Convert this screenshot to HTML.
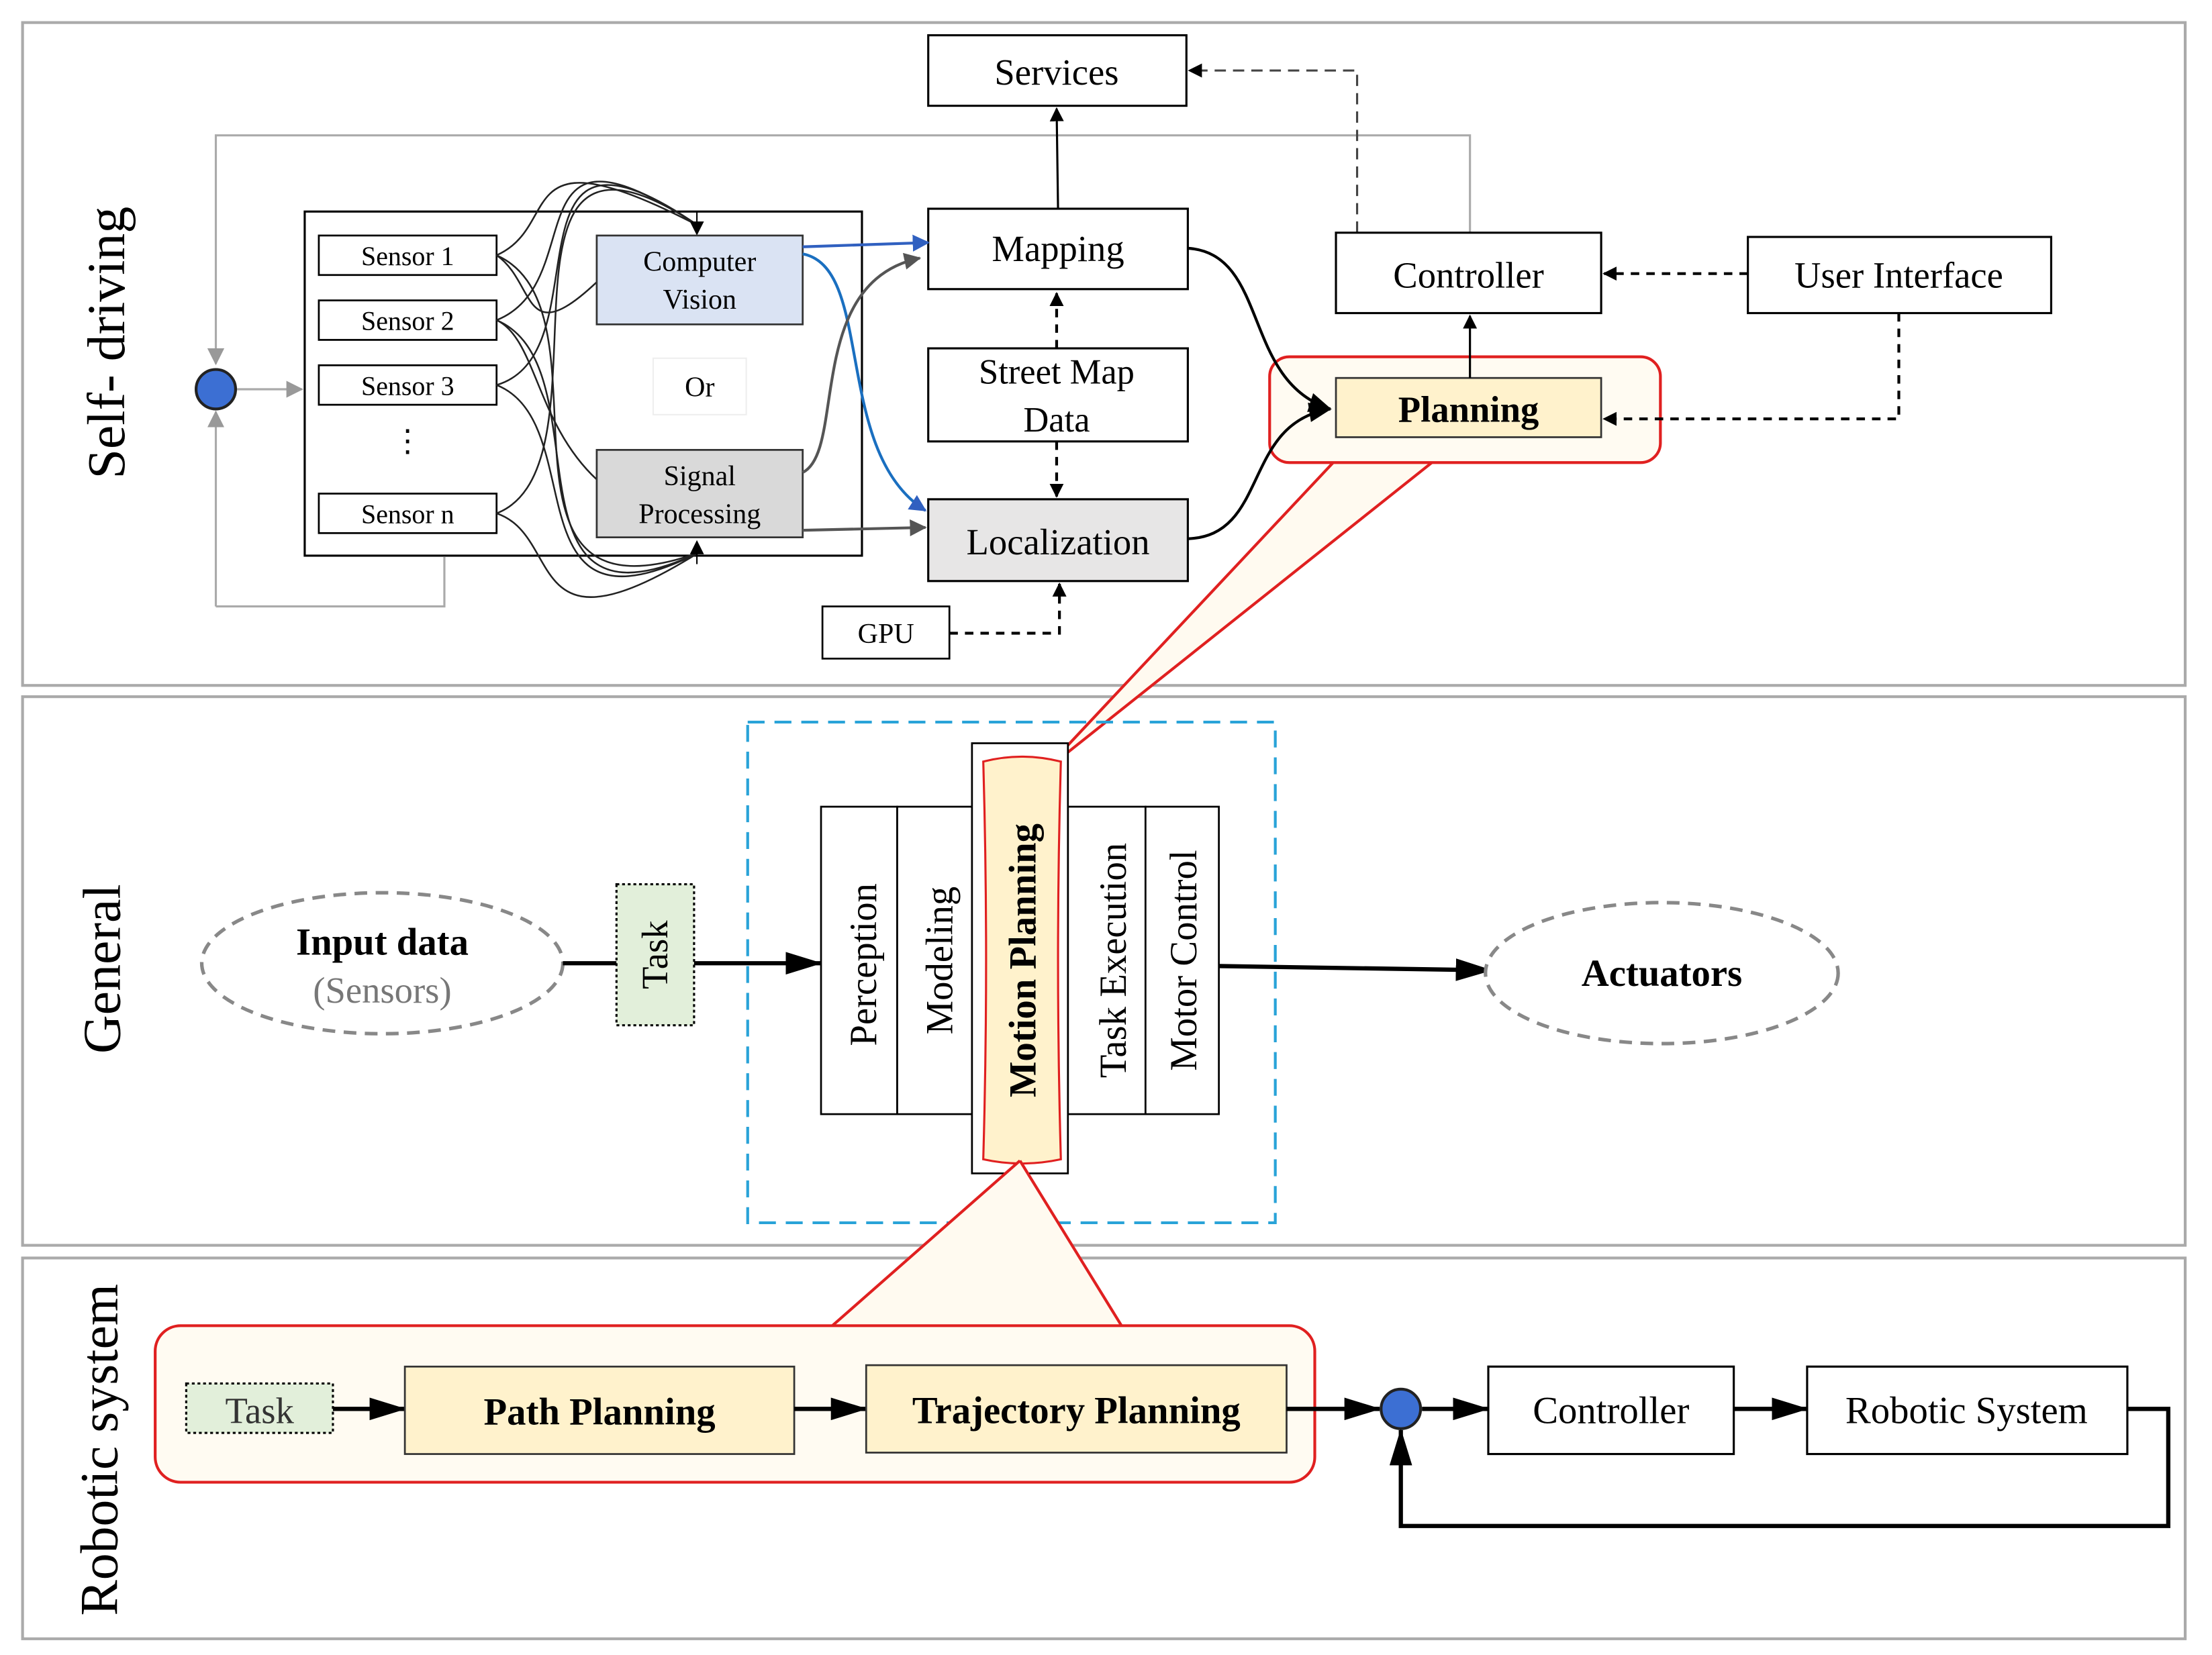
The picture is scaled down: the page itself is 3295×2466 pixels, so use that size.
<!DOCTYPE html>
<html><head><meta charset="utf-8"><style>html,body{margin:0;padding:0;background:#fff}svg{display:block}</style></head>
<body>
<svg width="3295" height="2466" viewBox="0 0 1568 1173.5" preserveAspectRatio="none" xmlns="http://www.w3.org/2000/svg" font-family="'Liberation Serif', serif">
<defs>
<marker id="ab" markerWidth="10" markerHeight="10" refX="9" refY="5" orient="auto" markerUnits="userSpaceOnUse"><path d="M0,0 L10,5 L0,10 z" fill="#000"/></marker>
<marker id="abig" markerWidth="26" markerHeight="16" refX="25" refY="8" orient="auto" markerUnits="userSpaceOnUse"><path d="M0,0 L26,8 L0,16 z" fill="#000"/></marker>
<marker id="ag" markerWidth="12" markerHeight="12" refX="11" refY="6" orient="auto" markerUnits="userSpaceOnUse"><path d="M0,0 L12,6 L0,12 z" fill="#999"/></marker>
<marker id="abl" markerWidth="12" markerHeight="12" refX="11" refY="6" orient="auto" markerUnits="userSpaceOnUse"><path d="M0,0 L12,6 L0,12 z" fill="#3060c0"/></marker>
<marker id="agr" markerWidth="12" markerHeight="12" refX="11" refY="6" orient="auto" markerUnits="userSpaceOnUse"><path d="M0,0 L12,6 L0,12 z" fill="#555"/></marker>
<marker id="am" markerWidth="16" markerHeight="14" refX="15" refY="7" orient="auto" markerUnits="userSpaceOnUse"><path d="M0,0 L16,7 L0,14 z" fill="#000"/></marker>
</defs>
<rect x="16" y="16" width="1533" height="470" fill="none" stroke="#aaa" stroke-width="2"/>
<rect x="16" y="494" width="1533" height="389" fill="none" stroke="#aaa" stroke-width="2"/>
<rect x="16" y="892" width="1533" height="270" fill="none" stroke="#aaa" stroke-width="2"/>
<text transform="translate(88,243) rotate(-90)" text-anchor="middle" font-size="38">Self- driving</text>
<text transform="translate(85,687) rotate(-90)" text-anchor="middle" font-size="38">General</text>
<text transform="translate(83,1028) rotate(-90)" text-anchor="middle" font-size="38">Robotic system</text>

<path d="M153,258 V96 H1042 V165" fill="none" stroke="#aaa" stroke-width="1.5"/>
<path d="M153,245 V258" stroke="#aaa" marker-end="url(#ag)"/>
<path d="M153,430 V292" fill="none" stroke="#aaa" stroke-width="1.5" marker-end="url(#ag)"/>
<path d="M153,430 H315 V395" fill="none" stroke="#aaa" stroke-width="1.5"/>
<circle cx="153" cy="276" r="14" fill="#3c6fd3" stroke="#222" stroke-width="2"/>
<path d="M168,276 H214" stroke="#aaa" stroke-width="1.5" marker-end="url(#ag)"/>
<rect x="216" y="150" width="395" height="244" fill="#fff" stroke="#000" stroke-width="1.5"/>
<g stroke="#000" stroke-width="1.3">
<rect x="226" y="167" width="126" height="28" fill="#fff"/>
<rect x="226" y="213" width="126" height="28" fill="#fff"/>
<rect x="226" y="259" width="126" height="28" fill="#fff"/>
<rect x="226" y="350" width="126" height="28" fill="#fff"/>
</g>
<g font-size="19" text-anchor="middle">
<text x="289" y="188">Sensor 1</text><text x="289" y="234">Sensor 2</text><text x="289" y="280">Sensor 3</text><text x="289" y="371">Sensor n</text>
<text x="289" y="320" font-size="22">⋮</text>
</g>
<g fill="none" stroke="#222" stroke-width="1.2">
<path d="M352,181 C400,160 360,90 495,160"/><path d="M352,227 C420,200 360,70 495,160"/><path d="M352,273 C430,250 350,60 495,160"/><path d="M352,364 C440,330 330,50 495,160"/>
<path d="M352,181 C440,220 330,450 495,392"/><path d="M352,227 C430,260 350,460 495,392"/><path d="M352,273 C420,300 360,460 495,392"/><path d="M352,364 C400,380 370,470 495,392"/>
<path d="M352,181 C380,200 370,250 423,200"/><path d="M352,227 C380,240 380,300 423,340"/>
</g>
<path d="M494,150 V166" stroke="#000" marker-end="url(#ab)"/>
<path d="M494,400 V384" stroke="#000" marker-end="url(#ab)"/>
<rect x="423" y="167" width="146" height="63" fill="#dae3f3" stroke="#333" stroke-width="1.3"/>
<text x="496" y="192" font-size="20" text-anchor="middle">Computer</text><text x="496" y="219" font-size="20" text-anchor="middle">Vision</text>
<rect x="463" y="254" width="66" height="40" fill="#fff" stroke="#eee"/>
<text x="496" y="281" font-size="20" text-anchor="middle">Or</text>
<rect x="423" y="319" width="146" height="62" fill="#d9d9d9" stroke="#333" stroke-width="1.3"/>
<text x="496" y="344" font-size="20" text-anchor="middle">Signal</text><text x="496" y="371" font-size="20" text-anchor="middle">Processing</text>
<rect x="658" y="148" width="184" height="57" fill="#fff" stroke="#000" stroke-width="1.5"/>
<text x="750" y="185" font-size="26" text-anchor="middle">Mapping</text>
<rect x="658" y="247" width="184" height="66" fill="#fff" stroke="#000" stroke-width="1.5"/>
<text x="749" y="272" font-size="25" text-anchor="middle">Street Map</text><text x="749" y="306" font-size="25" text-anchor="middle">Data</text>
<rect x="658" y="354" width="184" height="58" fill="#e7e6e6" stroke="#000" stroke-width="1.5"/>
<text x="750" y="393" font-size="26" text-anchor="middle">Localization</text>
<rect x="658" y="25" width="183" height="50" fill="#fff" stroke="#000" stroke-width="1.5"/>
<text x="749" y="60" font-size="26" text-anchor="middle">Services</text>
<path d="M750,148 L749,77" stroke="#000" stroke-width="1.5" marker-end="url(#ab)"/>
<path d="M569,175 L658,172" stroke="#3060c0" stroke-width="2" marker-end="url(#abl)"/>
<path d="M569,180 C620,190 590,320 656,362" fill="none" stroke="#1a6fc0" stroke-width="2" marker-end="url(#abl)"/>
<path d="M569,335 C600,320 570,200 652,183" fill="none" stroke="#555" stroke-width="2" marker-end="url(#agr)"/>
<path d="M569,376 L656,374" stroke="#555" stroke-width="2" marker-end="url(#agr)"/>
<g stroke="#000" stroke-width="2" stroke-dasharray="6,5" fill="none">
<path d="M749,247 V208" marker-end="url(#ab)"/>
<path d="M749,313 V352" marker-end="url(#ab)"/>
<path d="M673,449 H751 V414" marker-end="url(#ab)"/>
<path d="M1239,194 H1137" marker-end="url(#ab)"/>
</g>
<path d="M962,165 V50 H843" fill="none" stroke="#444" stroke-width="1.5" stroke-dasharray="8,5" marker-end="url(#ab)"/>
<rect x="583" y="430" width="90" height="37" fill="#fff" stroke="#000" stroke-width="1.3"/>
<text x="628" y="456" font-size="20" text-anchor="middle">GPU</text>
<polygon points="945,328 748,538 755,535 1015,328" fill="#fffaf0"/>
<line x1="945" y1="328" x2="748" y2="538" stroke="#e02020" stroke-width="2"/>
<line x1="1015" y1="328" x2="755" y2="535" stroke="#e02020" stroke-width="2"/>
<rect x="900" y="253" width="277" height="75" rx="14" fill="#fffbf2" stroke="#e02020" stroke-width="2"/>
<rect x="947" y="268" width="188" height="42" fill="#fff2cc" stroke="#333" stroke-width="1.3"/>
<text x="1041" y="299" font-size="26" font-weight="bold" text-anchor="middle">Planning</text>
<path d="M1346,222 V297 H1137" fill="none" stroke="#000" stroke-width="2" stroke-dasharray="6,5" marker-end="url(#ab)"/>
<rect x="947" y="165" width="188" height="57" fill="#fff" stroke="#000" stroke-width="1.5"/>
<text x="1041" y="204" font-size="26" text-anchor="middle">Controller</text>
<rect x="1239" y="168" width="215" height="54" fill="#fff" stroke="#000" stroke-width="1.5"/>
<text x="1346" y="204" font-size="26" text-anchor="middle">User Interface</text>
<path d="M1042,268 V224" stroke="#000" stroke-width="1.5" marker-end="url(#ab)"/>
<path d="M842,176 C900,180 880,270 943,290" fill="none" stroke="#000" stroke-width="2" marker-end="url(#am)"/>
<path d="M842,382 C900,380 880,300 943,290" fill="none" stroke="#000" stroke-width="2" marker-end="url(#am)"/>

<rect x="530" y="512" width="374" height="355" fill="none" stroke="#29a3d8" stroke-width="2" stroke-dasharray="12,7"/>
<ellipse cx="271" cy="683" rx="128" ry="50" fill="#fff" stroke="#888" stroke-width="2.5" stroke-dasharray="9,6"/>
<text x="271" y="677" font-size="27" font-weight="bold" text-anchor="middle">Input data</text>
<text x="271" y="711" font-size="26" fill="#777" text-anchor="middle">(Sensors)</text>
<line x1="399" y1="683" x2="437" y2="683" stroke="#000" stroke-width="3"/>
<rect x="437" y="627" width="55" height="100" fill="#e2efda" stroke="#000" stroke-width="1.5" stroke-dasharray="2,2"/>
<text transform="translate(473,677) rotate(-90)" font-size="26" text-anchor="middle">Task</text>
<path d="M492,683 H582" stroke="#000" stroke-width="3" marker-end="url(#abig)"/>
<rect x="582" y="572" width="54" height="218" fill="#fff" stroke="#000" stroke-width="1.3"/>
<rect x="636" y="572" width="54" height="218" fill="#fff" stroke="#000" stroke-width="1.3"/>
<rect x="757" y="572" width="55" height="218" fill="#fff" stroke="#000" stroke-width="1.3"/>
<rect x="812" y="572" width="52" height="218" fill="#fff" stroke="#000" stroke-width="1.3"/>
<rect x="689" y="527" width="68" height="305" fill="#fff" stroke="#000" stroke-width="1.3"/>
<path d="M697,540 Q724,533 752,540 Q748,680 752,822 Q724,828 697,822 Q701,680 697,540 z" fill="#fff2cc" stroke="#e02020" stroke-width="1.5"/>
<g font-size="27" text-anchor="middle">
<text transform="translate(621,684) rotate(-90)">Perception</text>
<text transform="translate(675,681) rotate(-90)">Modeling</text>
<text transform="translate(734,681) rotate(-90)" font-weight="bold">Motion Planning</text>
<text transform="translate(798,681) rotate(-90)">Task Execution</text>
<text transform="translate(848,681) rotate(-90)">Motor Control</text>
</g>
<path d="M864,685 L1057,688" stroke="#000" stroke-width="3" marker-end="url(#abig)"/>
<ellipse cx="1178" cy="690" rx="125" ry="50" fill="#fff" stroke="#888" stroke-width="2.5" stroke-dasharray="9,6"/>
<text x="1178" y="699" font-size="27" font-weight="bold" text-anchor="middle">Actuators</text>

<polygon points="723,823 590,940 795,940" fill="#fffaf0"/>
<line x1="723" y1="823" x2="590" y2="940" stroke="#e02020" stroke-width="2"/>
<line x1="723" y1="823" x2="795" y2="940" stroke="#e02020" stroke-width="2"/>
<rect x="110" y="940" width="822" height="111" rx="18" fill="#fffbf2" stroke="#e02020" stroke-width="2"/>
<rect x="132" y="981" width="104" height="35" fill="#e2efda" stroke="#000" stroke-width="1.5" stroke-dasharray="2,2"/>
<text x="184" y="1009" font-size="26" text-anchor="middle" fill="#333">Task</text>
<path d="M236,999 H287" stroke="#000" stroke-width="3" marker-end="url(#abig)"/>
<rect x="287" y="969" width="276" height="62" fill="#fff2cc" stroke="#333" stroke-width="1.3"/>
<text x="425" y="1010" font-size="27" font-weight="bold" text-anchor="middle">Path Planning</text>
<path d="M563,999 H614" stroke="#000" stroke-width="3" marker-end="url(#abig)"/>
<rect x="614" y="968" width="298" height="62" fill="#fff2cc" stroke="#333" stroke-width="1.3"/>
<text x="763" y="1009" font-size="27" font-weight="bold" text-anchor="middle">Trajectory Planning</text>
<path d="M912,999 H978" stroke="#000" stroke-width="3" marker-end="url(#abig)"/>
<circle cx="993" cy="999" r="14" fill="#3c6fd3" stroke="#222" stroke-width="2"/>
<path d="M1008,999 H1055" stroke="#000" stroke-width="3" marker-end="url(#abig)"/>
<rect x="1055" y="969" width="174" height="62" fill="#fff" stroke="#000" stroke-width="1.5"/>
<text x="1142" y="1009" font-size="27" text-anchor="middle">Controller</text>
<path d="M1229,999 H1281" stroke="#000" stroke-width="3" marker-end="url(#abig)"/>
<rect x="1281" y="969" width="227" height="62" fill="#fff" stroke="#000" stroke-width="1.5"/>
<text x="1394" y="1009" font-size="27" text-anchor="middle">Robotic System</text>
<path d="M1508,999 H1537 V1082 H993 V1014" fill="none" stroke="#000" stroke-width="3" marker-end="url(#abig)"/>
</svg>
</body></html>
